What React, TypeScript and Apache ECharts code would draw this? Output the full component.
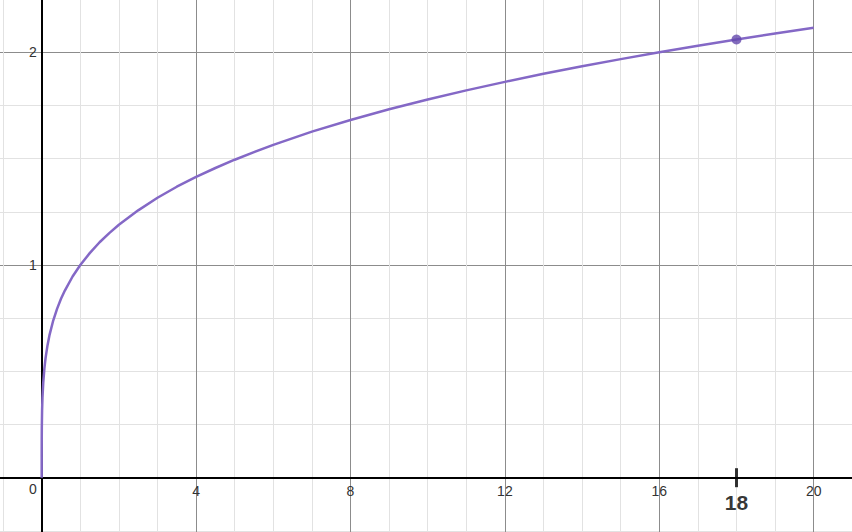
import { useEffect, useRef } from "react";
import * as echarts from "echarts";

// points (x, y)
const curveX = [
  0, 0.0001, 0.001, 0.003, 0.01, 0.02, 0.04, 0.07, 0.1, 0.15, 0.2, 0.3, 0.4, 0.5, 0.6, 0.8, 1, 1.25, 1.5, 1.75, 2,
  2.5, 3, 3.5, 4, 4.5, 5, 5.5, 6, 7, 8, 9, 10, 11, 12, 13, 14, 15, 16, 17, 18, 19, 20,
];
const curveY = [
  0, 0.1, 0.178, 0.234, 0.316, 0.376, 0.447, 0.514, 0.562, 0.622, 0.669, 0.74, 0.795, 0.841, 0.88, 0.946, 1, 1.057,
  1.107, 1.15, 1.189, 1.257, 1.316, 1.368, 1.414, 1.456, 1.495, 1.531, 1.565, 1.627, 1.682, 1.732, 1.778, 1.821, 1.861,
  1.899, 1.934, 1.968, 2, 2.031, 2.06, 2.088, 2.115,
];

// highlighted point and its x-axis marker
const pointX = 18;
const pointY = 2.06;
const markerLabel = "18";

// visible window in data units
const viewX = [-1.08, 20.99];
const viewY = [-0.255, 2.246];

const font = "'Liberation Sans', Arial, sans-serif";

export default function App() {
  const chartRef = useRef<HTMLDivElement>(null);

  useEffect(() => {
    if (!chartRef.current) return;
    const chart = echarts.init(chartRef.current, undefined, { renderer: "svg" });

    const showX = (v: number) => (v === 0 || v < viewX[0] || v > viewX[1] ? "" : String(v));
    const showY = (v: number) => (v === 0 || v < viewY[0] || v > viewY[1] ? "" : String(v));

    const option = {
      animation: false,
      backgroundColor: "#ffffff",
      // grid runs past the window so ticks land on multiples of 4 (x) and 1 (y)
      grid: { left: -112.7, width: 1080.8, top: -160.4, height: 850.8, outerBoundsMode: "none", containLabel: false },
      xAxis: {
        type: "value",
        min: -4,
        max: 24,
        interval: 4,
        position: "bottom",
        offset: -212.7,
        axisLine: { onZero: false, lineStyle: { color: "#000", width: 2 } },
        axisTick: { show: false },
        axisLabel: { color: "#333", fontFamily: font, fontSize: 14, margin: 6, formatter: showX },
        splitLine: { show: true, lineStyle: { color: "#8c8c8c", width: 1 } },
        minorTick: { show: false, splitNumber: 4 },
        minorSplitLine: { show: true, lineStyle: { color: "#e2e2e2", width: 1 } },
      },
      yAxis: {
        type: "value",
        min: -1,
        max: 3,
        interval: 1,
        position: "left",
        offset: -154.4,
        axisLine: { onZero: false, lineStyle: { color: "#000", width: 2 } },
        axisTick: { show: false },
        axisLabel: { color: "#333", fontFamily: font, fontSize: 14, margin: 5, formatter: showY },
        splitLine: { show: true, lineStyle: { color: "#8c8c8c", width: 1 } },
        minorTick: { show: false, splitNumber: 4 },
        minorSplitLine: { show: true, lineStyle: { color: "#e2e2e2", width: 1 } },
      },
      graphic: [
        {
          type: "text",
          left: 29,
          top: 482,
          style: { text: "0", fill: "#333", font: `14px ${font}` },
        },
      ],
      series: [
        {
          type: "line",
          data: curveX.map((x, i) => [x, curveY[i]]),
          showSymbol: false,
          lineStyle: { color: "#8468c6", width: 2.5 },
          z: 3,
        },
        {
          type: "scatter",
          data: [[pointX, 0]],
          symbol: "rect",
          symbolSize: [3, 19],
          itemStyle: { color: "#000" },
          label: {
            show: true,
            position: "bottom",
            distance: 5,
            formatter: markerLabel,
            color: "#000",
            fontFamily: font,
            fontWeight: "bold",
            fontSize: 21,
          },
          z: 4,
        },
        {
          type: "scatter",
          data: [[pointX, pointY]],
          symbol: "circle",
          symbolSize: 10,
          itemStyle: { color: "#6448ac" },
          z: 5,
        },
      ],
    };

    chart.setOption(option);
    return () => {
      chart.dispose();
    };
  }, []);

  return <div ref={chartRef} style={{ position: "fixed", left: 0, top: 0, width: 852, height: 532 }} />;
}
